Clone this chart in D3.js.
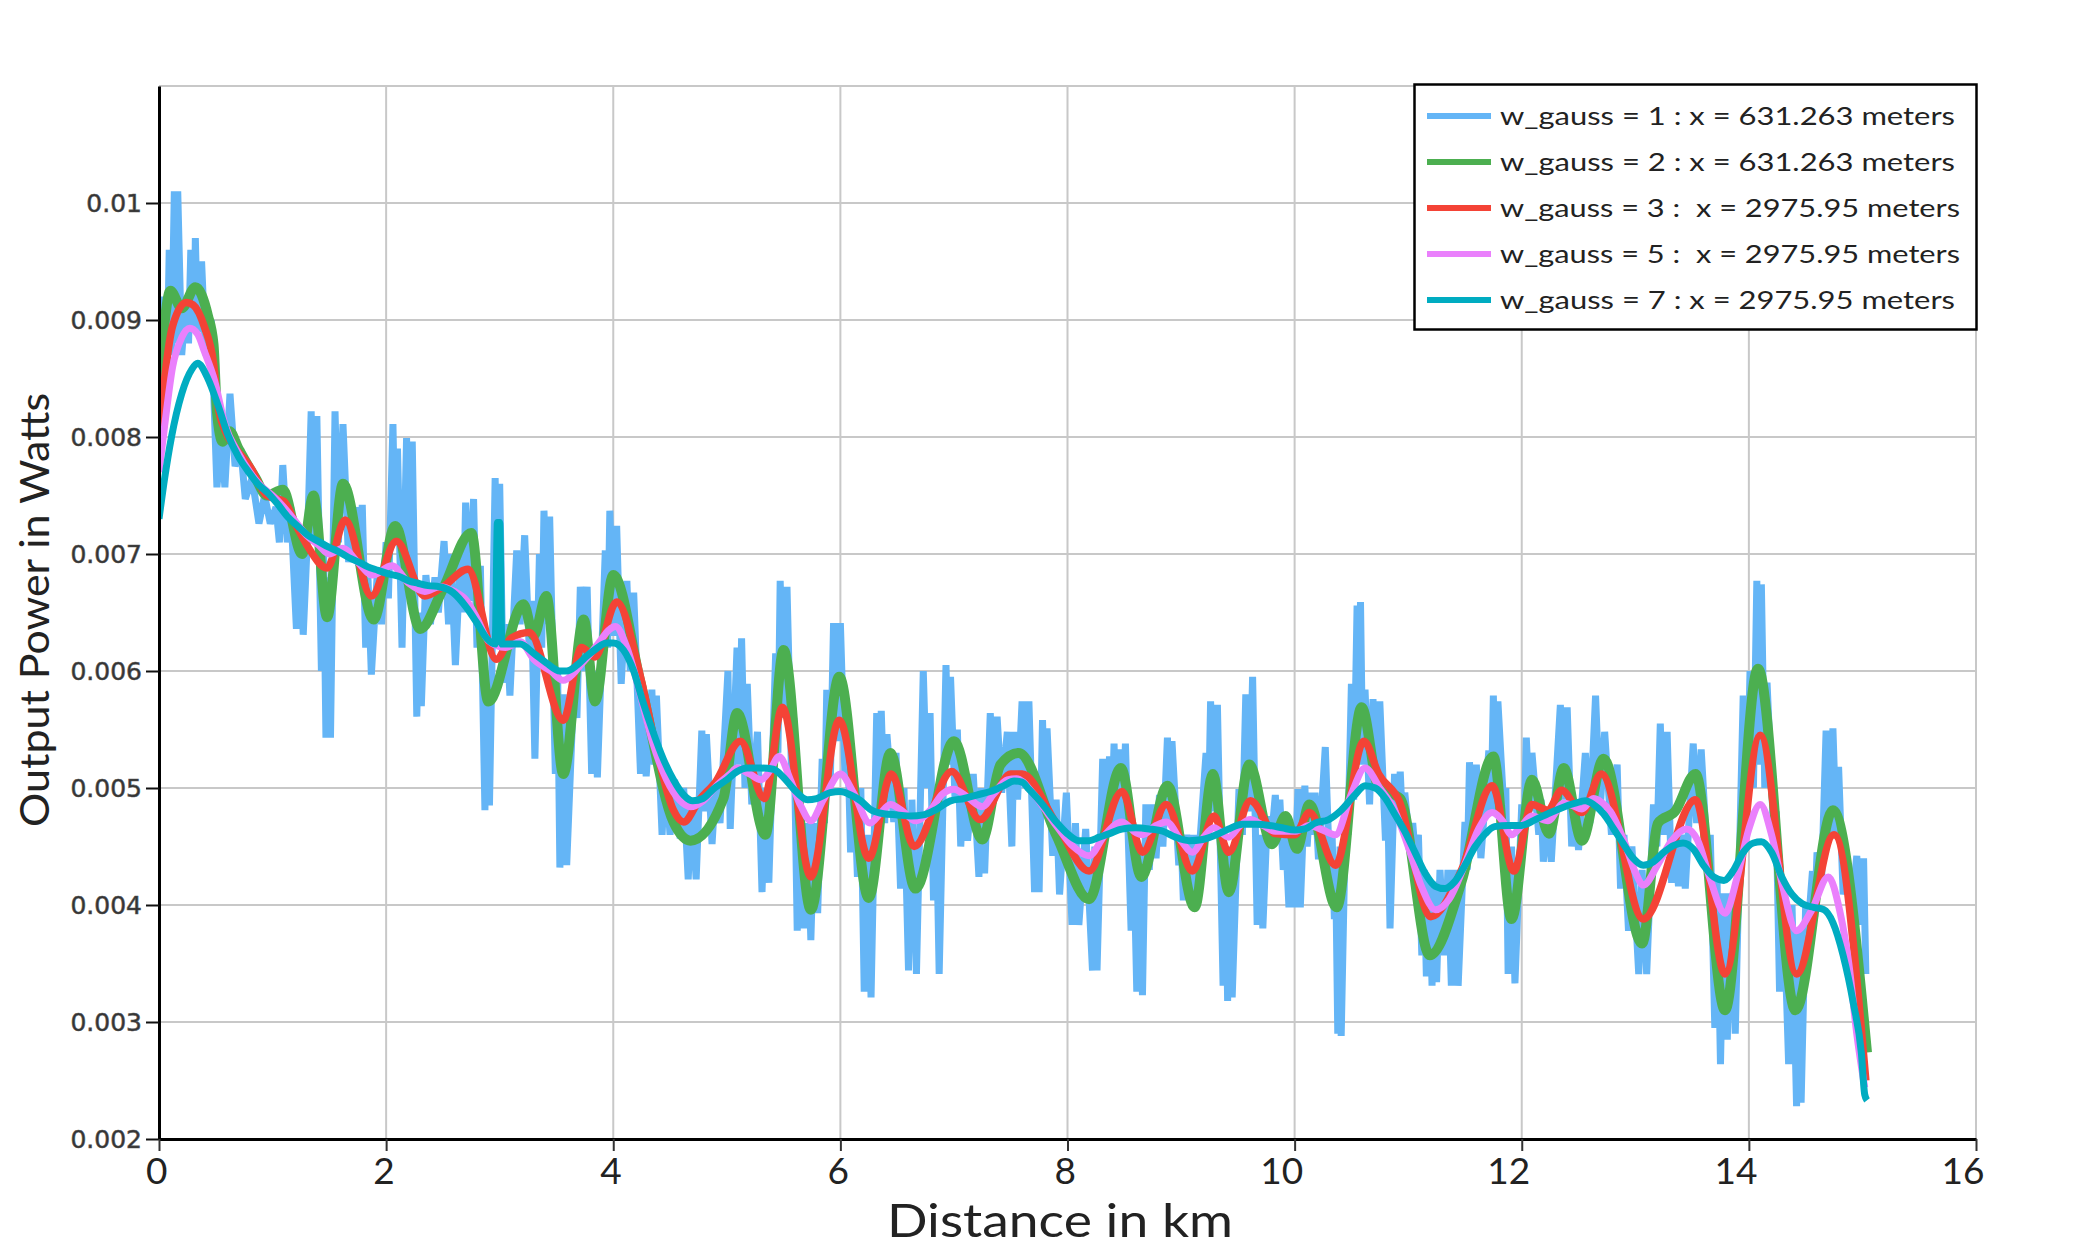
<!DOCTYPE html>
<html>
<head>
<meta charset="utf-8">
<script src="https://cdn.jsdelivr.net/npm/d3@7"></script>
<style>
  html, body { margin: 0; padding: 0; background: #fff; }
  .d3Chart text { white-space: pre; }
</style>
</head>
<body>
<div class="d3Chart"></div>
<script>
// axis ticks
const xTicks = [0, 2, 4, 6, 8, 10, 12, 14, 16]
const yTicks = [0.002, 0.003, 0.004, 0.005, 0.006, 0.007, 0.008, 0.009, 0.01]
const yTickLabels = ['0.002', '0.003', '0.004', '0.005', '0.006', '0.007', '0.008', '0.009', '0.01']
const yGrid = [0.003, 0.004, 0.005, 0.006, 0.007, 0.008, 0.009, 0.01, 0.011]

const legendLabels = [
  'w_gauss = 1 : x = 631.263 meters',
  'w_gauss = 2 : x = 631.263 meters',
  'w_gauss = 3 :  x = 2975.95 meters',
  'w_gauss = 5 :  x = 2975.95 meters',
  'w_gauss = 7 : x = 2975.95 meters'
]

// [distance km, power W]
const w1 = [[0,0.0082],[0.04,0.0092],[0.07,0.0085],[0.09,0.0096],[0.11,0.0087],[0.135,0.0101],[0.15,0.0088],[0.165,0.0101],[0.2,0.0087],[0.24,0.0092],[0.26,0.0088],[0.28,0.0096],[0.31,0.0089],[0.32,0.0097],[0.34,0.0089],[0.375,0.0095],[0.41,0.0087],[0.46,0.009],[0.51,0.00757],[0.55,0.008],[0.58,0.00757],[0.625,0.00837],[0.67,0.00775],[0.72,0.0079],[0.76,0.00747],[0.82,0.00765],[0.88,0.00726],[0.93,0.0075],[0.98,0.00726],[1.03,0.0074],[1.06,0.0071],[1.09,0.00776],[1.13,0.0071],[1.16,0.0074],[1.21,0.00636],[1.24,0.0071],[1.27,0.00631],[1.31,0.0072],[1.34,0.00822],[1.36,0.0071],[1.39,0.00818],[1.43,0.006],[1.45,0.007],[1.47,0.00543],[1.49,0.0068],[1.51,0.00543],[1.55,0.00822],[1.58,0.0071],[1.62,0.00811],[1.67,0.00693],[1.73,0.0074],[1.76,0.0069],[1.79,0.00742],[1.82,0.0062],[1.84,0.0068],[1.87,0.00597],[1.92,0.0068],[1.96,0.0064],[2.0,0.0071],[2.02,0.00662],[2.06,0.00811],[2.08,0.0071],[2.1,0.0079],[2.14,0.0062],[2.18,0.00799],[2.2,0.0069],[2.23,0.00796],[2.27,0.00561],[2.29,0.0065],[2.31,0.0057],[2.35,0.00682],[2.39,0.0064],[2.43,0.0068],[2.46,0.0065],[2.51,0.00711],[2.55,0.0064],[2.57,0.007],[2.61,0.00605],[2.66,0.0071],[2.68,0.0065],[2.7,0.00744],[2.73,0.0066],[2.77,0.00747],[2.8,0.0062],[2.83,0.0069],[2.87,0.00481],[2.89,0.006],[2.91,0.00485],[2.96,0.00765],[2.98,0.0064],[3.0,0.0076],[3.03,0.0059],[3.06,0.0064],[3.09,0.00579],[3.15,0.00703],[3.18,0.0064],[3.22,0.00716],[3.26,0.0062],[3.28,0.0066],[3.31,0.00525],[3.35,0.007],[3.37,0.0062],[3.39,0.00737],[3.42,0.0064],[3.44,0.00732],[3.49,0.00512],[3.51,0.006],[3.53,0.00432],[3.56,0.0058],[3.59,0.00434],[3.65,0.0058],[3.68,0.0056],[3.71,0.00672],[3.74,0.006],[3.77,0.00672],[3.81,0.00512],[3.83,0.006],[3.86,0.00509],[3.93,0.00703],[3.95,0.0062],[3.97,0.00737],[4.0,0.0063],[4.03,0.00724],[4.07,0.00589],[4.12,0.00677],[4.15,0.006],[4.18,0.00667],[4.24,0.00512],[4.26,0.0058],[4.29,0.0051],[4.34,0.00584],[4.36,0.0052],[4.38,0.00579],[4.43,0.0046],[4.46,0.0052],[4.5,0.0046],[4.54,0.00507],[4.59,0.00457],[4.62,0.005],[4.66,0.00422],[4.69,0.0049],[4.73,0.00422],[4.78,0.00549],[4.8,0.0048],[4.82,0.00546],[4.87,0.00452],[4.9,0.005],[4.94,0.0047],[5.01,0.006],[5.03,0.00465],[5.09,0.0062],[5.11,0.0052],[5.13,0.00628],[5.16,0.005],[5.18,0.00589],[5.22,0.00486],[5.27,0.00548],[5.31,0.00411],[5.34,0.005],[5.37,0.00419],[5.43,0.00615],[5.45,0.0053],[5.47,0.00677],[5.5,0.0056],[5.53,0.00672],[5.57,0.00512],[5.59,0.0056],[5.62,0.00378],[5.65,0.0048],[5.68,0.0038],[5.71,0.0047],[5.74,0.0037],[5.77,0.0047],[5.8,0.00393],[5.84,0.00525],[5.86,0.0047],[5.88,0.00584],[5.91,0.005],[5.94,0.00641],[5.97,0.0054],[6.0,0.00641],[6.04,0.00512],[6.06,0.0056],[6.09,0.00445],[6.12,0.0051],[6.15,0.00424],[6.18,0.005],[6.21,0.00326],[6.24,0.0046],[6.27,0.00321],[6.32,0.00564],[6.34,0.0048],[6.36,0.00566],[6.39,0.0047],[6.41,0.00546],[6.47,0.00471],[6.49,0.0053],[6.53,0.00414],[6.56,0.005],[6.6,0.00344],[6.63,0.0049],[6.67,0.00341],[6.73,0.006],[6.76,0.005],[6.79,0.00564],[6.82,0.00404],[6.84,0.005],[6.87,0.00341],[6.93,0.00605],[6.95,0.0052],[6.97,0.00595],[7.01,0.0049],[7.03,0.0055],[7.06,0.0045],[7.09,0.0052],[7.12,0.00455],[7.17,0.00512],[7.22,0.00424],[7.24,0.005],[7.27,0.00427],[7.32,0.00564],[7.35,0.005],[7.38,0.00561],[7.42,0.00496],[7.47,0.00548],[7.51,0.0045],[7.53,0.00548],[7.56,0.0049],[7.6,0.00574],[7.63,0.005],[7.66,0.00574],[7.71,0.00411],[7.73,0.0049],[7.75,0.00411],[7.78,0.00558],[7.8,0.0049],[7.82,0.00551],[7.87,0.00442],[7.9,0.0049],[7.93,0.00409],[7.99,0.00496],[8.04,0.00383],[8.07,0.0047],[8.1,0.00383],[8.16,0.00465],[8.22,0.00344],[8.24,0.0045],[8.26,0.00344],[8.31,0.00525],[8.34,0.0046],[8.37,0.00527],[8.39,0.0047],[8.41,0.00538],[8.43,0.0047],[8.46,0.00533],[8.49,0.0047],[8.51,0.00538],[8.56,0.00378],[8.58,0.0046],[8.61,0.00326],[8.63,0.0045],[8.66,0.00323],[8.69,0.00486],[8.72,0.0043],[8.75,0.00486],[8.78,0.0044],[8.81,0.00494],[8.84,0.0045],[8.88,0.00543],[8.9,0.0047],[8.92,0.0054],[8.98,0.00434],[9.0,0.0046],[9.02,0.00404],[9.05,0.0046],[9.09,0.00406],[9.11,0.0046],[9.13,0.00404],[9.22,0.0053],[9.24,0.0047],[9.26,0.00574],[9.29,0.0048],[9.32,0.00571],[9.37,0.00331],[9.39,0.0045],[9.41,0.00318],[9.43,0.0045],[9.45,0.00321],[9.51,0.00499],[9.54,0.0046],[9.57,0.0058],[9.6,0.0048],[9.63,0.00595],[9.67,0.00383],[9.69,0.0046],[9.72,0.0038],[9.76,0.00476],[9.79,0.0045],[9.83,0.00494],[9.85,0.0046],[9.87,0.0049],[9.9,0.0043],[9.92,0.0046],[9.95,0.00398],[9.97,0.0046],[9.99,0.00398],[10.03,0.00499],[10.05,0.00398],[10.09,0.00502],[10.11,0.0045],[10.14,0.00496],[10.16,0.0046],[10.18,0.00496],[10.21,0.00439],[10.27,0.00535],[10.31,0.00424],[10.33,0.0046],[10.35,0.00388],[10.36,0.0044],[10.38,0.0029],[10.4,0.0045],[10.41,0.00288],[10.45,0.00481],[10.47,0.0046],[10.5,0.00589],[10.52,0.0049],[10.55,0.00656],[10.56,0.0052],[10.58,0.00659],[10.6,0.0052],[10.62,0.00584],[10.66,0.00486],[10.69,0.00576],[10.72,0.005],[10.75,0.00574],[10.8,0.00455],[10.82,0.0049],[10.84,0.0038],[10.88,0.00512],[10.9,0.0047],[10.93,0.00514],[10.95,0.0047],[10.97,0.00496],[11.02,0.00445],[11.04,0.0047],[11.06,0.00445],[11.09,0.0046],[11.12,0.00357],[11.14,0.0043],[11.16,0.00339],[11.19,0.0042],[11.21,0.00331],[11.23,0.0042],[11.25,0.00334],[11.28,0.0043],[11.32,0.00357],[11.35,0.0043],[11.38,0.00331],[11.41,0.0043],[11.44,0.00331],[11.5,0.00471],[11.52,0.0043],[11.54,0.00522],[11.57,0.0046],[11.6,0.0052],[11.64,0.0044],[11.71,0.00532],[11.73,0.0048],[11.75,0.00579],[11.77,0.0048],[11.79,0.00574],[11.84,0.00486],[11.86,0.005],[11.88,0.00341],[11.91,0.0045],[11.94,0.00333],[12.0,0.00486],[12.02,0.0046],[12.04,0.00543],[12.07,0.0048],[12.09,0.0053],[12.15,0.0046],[12.17,0.0049],[12.19,0.00437],[12.22,0.0048],[12.26,0.00437],[12.34,0.00571],[12.37,0.0049],[12.4,0.00569],[12.44,0.0045],[12.47,0.0049],[12.5,0.00447],[12.56,0.0053],[12.6,0.0047],[12.65,0.00579],[12.69,0.0048],[12.73,0.00548],[12.79,0.0046],[12.84,0.0052],[12.87,0.00414],[12.9,0.0046],[12.94,0.00378],[12.97,0.0045],[13.03,0.00341],[13.06,0.0043],[13.1,0.00341],[13.16,0.00486],[13.19,0.0045],[13.22,0.00555],[13.25,0.0046],[13.28,0.00548],[13.32,0.00419],[13.35,0.0046],[13.38,0.00416],[13.41,0.0046],[13.44,0.00414],[13.51,0.00538],[13.54,0.0047],[13.58,0.00533],[13.64,0.0043],[13.66,0.0046],[13.7,0.00295],[13.72,0.0042],[13.75,0.00264],[13.78,0.0041],[13.81,0.00285],[13.84,0.0041],[13.88,0.0029],[13.95,0.00579],[13.98,0.0046],[14.01,0.006],[14.04,0.005],[14.07,0.00677],[14.09,0.0052],[14.11,0.00674],[14.14,0.005],[14.16,0.0059],[14.22,0.0046],[14.24,0.0048],[14.27,0.00326],[14.3,0.0042],[14.35,0.00264],[14.38,0.004],[14.42,0.00228],[14.44,0.0038],[14.46,0.00231],[14.5,0.004],[14.52,0.00378],[14.56,0.00429],[14.58,0.0039],[14.6,0.00445],[14.64,0.0042],[14.68,0.00549],[14.71,0.0046],[14.74,0.00551],[14.77,0.0046],[14.79,0.00518],[14.83,0.00409],[14.87,0.00434],[14.9,0.0039],[14.95,0.00442],[14.99,0.00383],[15.01,0.0044],[15.03,0.00341]]

const w2 = [[0,0.0085],[0.04,0.0089],[0.1,0.00925],[0.2,0.0091],[0.32,0.00928],[0.43,0.00904],[0.48,0.00879],[0.51,0.00822],[0.56,0.00796],[0.62,0.00805],[0.7,0.0079],[0.85,0.00765],[0.95,0.0075],[1.09,0.00755],[1.26,0.007],[1.36,0.0075],[1.48,0.00646],[1.62,0.0076],[1.89,0.00644],[2.08,0.00724],[2.3,0.00636],[2.5,0.0067],[2.75,0.00718],[2.9,0.00574],[3.21,0.00657],[3.3,0.0063],[3.41,0.00664],[3.56,0.00512],[3.74,0.00644],[3.84,0.00574],[4.0,0.00682],[4.24,0.0059],[4.53,0.00471],[4.68,0.00455],[4.97,0.00491],[5.09,0.00564],[5.34,0.0046],[5.5,0.00618],[5.74,0.00396],[5.99,0.00595],[6.25,0.00406],[6.44,0.0053],[6.66,0.00414],[7.0,0.0054],[7.25,0.00456],[7.41,0.0052],[7.57,0.0053],[7.9,0.0046],[8.19,0.00405],[8.47,0.00517],[8.65,0.00424],[8.88,0.00502],[9.12,0.00398],[9.28,0.00512],[9.42,0.00411],[9.6,0.0052],[9.8,0.00452],[9.92,0.00476],[10.02,0.00448],[10.13,0.00486],[10.37,0.00398],[10.59,0.00569],[10.74,0.005],[10.93,0.00491],[11.19,0.00357],[11.47,0.0042],[11.75,0.00527],[11.91,0.00388],[12.09,0.00507],[12.24,0.00461],[12.37,0.00517],[12.53,0.00455],[12.72,0.00525],[13.06,0.00367],[13.2,0.0047],[13.35,0.0048],[13.53,0.00512],[13.79,0.0031],[14.08,0.00602],[14.41,0.0031],[14.74,0.00481],[15.04,0.00274]]

const w3 = [[0,0.008],[0.05,0.0085],[0.12,0.00895],[0.24,0.00915],[0.3,0.00913],[0.4,0.00894],[0.48,0.00863],[0.52,0.00827],[0.58,0.00806],[0.67,0.00791],[0.8,0.00775],[0.95,0.0075],[1.1,0.00745],[1.22,0.00722],[1.3,0.00708],[1.48,0.00688],[1.64,0.00729],[1.87,0.00664],[2.09,0.00711],[2.34,0.00664],[2.5,0.00672],[2.72,0.00687],[2.97,0.0061],[3.1,0.00628],[3.26,0.00633],[3.56,0.00558],[3.72,0.0062],[3.84,0.00612],[4.03,0.00659],[4.24,0.00595],[4.38,0.00533],[4.53,0.00481],[4.62,0.00471],[4.76,0.0049],[4.9,0.00505],[5.12,0.0054],[5.33,0.00491],[5.49,0.00569],[5.74,0.00424],[5.99,0.00558],[6.25,0.0044],[6.45,0.00512],[6.65,0.0045],[6.98,0.00514],[7.23,0.00473],[7.5,0.00512],[7.6,0.00512],[7.9,0.0047],[8.19,0.00429],[8.48,0.00497],[8.66,0.00445],[8.87,0.00486],[9.1,0.00429],[9.29,0.00476],[9.42,0.00445],[9.61,0.00489],[9.83,0.00461],[10.0,0.0046],[10.13,0.00479],[10.36,0.00434],[10.61,0.0054],[10.74,0.00512],[10.92,0.00489],[11.2,0.0039],[11.47,0.0043],[11.74,0.00502],[11.93,0.00429],[12.09,0.00486],[12.23,0.00481],[12.35,0.00498],[12.53,0.00479],[12.7,0.00512],[13.07,0.00388],[13.53,0.0049],[13.79,0.00341],[14.1,0.00545],[14.42,0.00341],[14.75,0.0046],[15.03,0.0025]]

const w5 = [[0,0.0077],[0.05,0.0081],[0.12,0.0086],[0.2,0.00885],[0.27,0.00893],[0.34,0.00888],[0.4,0.00873],[0.49,0.00848],[0.58,0.00811],[0.7,0.00786],[0.8,0.0077],[0.9,0.00758],[1.0,0.0075],[1.1,0.0074],[1.2,0.00728],[1.3,0.00716],[1.4,0.00708],[1.5,0.007],[1.62,0.00705],[1.75,0.00693],[1.88,0.00682],[2.05,0.0069],[2.2,0.00675],[2.34,0.00668],[2.47,0.00672],[2.6,0.00668],[2.71,0.0066],[2.8,0.00645],[2.9,0.00626],[3.05,0.0062],[3.18,0.00625],[3.3,0.0061],[3.45,0.006],[3.56,0.00592],[3.65,0.00598],[3.71,0.00605],[3.8,0.00615],[3.88,0.00625],[3.96,0.00635],[4.02,0.00638],[4.12,0.0062],[4.24,0.00579],[4.35,0.00538],[4.47,0.00507],[4.59,0.00489],[4.68,0.00484],[4.79,0.00489],[4.91,0.00502],[5.03,0.00512],[5.09,0.00517],[5.2,0.00512],[5.3,0.00507],[5.38,0.00515],[5.46,0.00527],[5.56,0.00507],[5.65,0.00485],[5.74,0.00472],[5.85,0.0049],[6.0,0.00512],[6.12,0.00495],[6.26,0.0047],[6.35,0.00478],[6.44,0.00486],[6.55,0.0048],[6.66,0.00472],[6.8,0.00482],[6.9,0.00495],[7.0,0.00499],[7.12,0.00492],[7.25,0.00484],[7.35,0.00495],[7.47,0.00507],[7.55,0.00508],[7.7,0.00495],[7.9,0.00468],[8.05,0.0045],[8.19,0.00442],[8.33,0.0046],[8.48,0.00471],[8.6,0.00462],[8.66,0.0046],[8.78,0.00468],[8.87,0.00471],[9.0,0.00455],[9.1,0.00445],[9.2,0.00458],[9.29,0.00466],[9.42,0.00458],[9.52,0.00468],[9.61,0.00473],[9.72,0.00468],[9.83,0.00463],[10.01,0.00463],[10.13,0.00468],[10.25,0.00464],[10.36,0.0046],[10.5,0.00495],[10.62,0.00517],[10.75,0.005],[10.88,0.00481],[11.0,0.0045],[11.12,0.00415],[11.24,0.00396],[11.36,0.00405],[11.5,0.00435],[11.62,0.00465],[11.74,0.00479],[11.83,0.00472],[11.91,0.0046],[12.0,0.00468],[12.09,0.00476],[12.23,0.00472],[12.37,0.00487],[12.45,0.00485],[12.53,0.00482],[12.63,0.00491],[12.7,0.00488],[12.78,0.0048],[12.9,0.00455],[13.0,0.00428],[13.07,0.00417],[13.2,0.00435],[13.32,0.00455],[13.45,0.00465],[13.55,0.00455],[13.65,0.00425],[13.79,0.00393],[13.9,0.00425],[14.0,0.00465],[14.1,0.00486],[14.2,0.0046],[14.3,0.00415],[14.42,0.00378],[14.55,0.00395],[14.7,0.00424],[14.8,0.00395],[14.88,0.0035],[14.95,0.0029],[15.02,0.00244]]

const w7 = [[0,0.0073],[0.05,0.00765],[0.11,0.008],[0.2,0.00837],[0.29,0.00858],[0.34,0.00863],[0.43,0.0085],[0.52,0.00827],[0.61,0.00801],[0.7,0.00783],[0.79,0.0077],[0.87,0.0076],[0.96,0.00752],[1.05,0.00742],[1.14,0.00731],[1.23,0.00723],[1.31,0.00716],[1.4,0.00711],[1.49,0.00706],[1.58,0.00702],[1.67,0.00697],[1.76,0.00693],[1.84,0.00689],[1.93,0.00686],[2.02,0.00683],[2.11,0.00681],[2.2,0.00677],[2.28,0.00675],[2.37,0.00673],[2.47,0.00672],[2.59,0.00667],[2.71,0.00654],[2.8,0.00641],[2.885,0.00628],[2.96,0.00623],[2.98,0.00727],[3.0,0.00727],[3.02,0.00623],[3.06,0.00623],[3.18,0.00623],[3.3,0.00615],[3.41,0.00607],[3.53,0.006],[3.59,0.006],[3.68,0.00605],[3.77,0.00613],[3.85,0.00619],[3.94,0.00624],[4.0,0.00624],[4.09,0.00618],[4.18,0.006],[4.26,0.00574],[4.35,0.00548],[4.44,0.00525],[4.53,0.00507],[4.62,0.00494],[4.7,0.00489],[4.79,0.00491],[4.88,0.00499],[5.0,0.00507],[5.09,0.00514],[5.18,0.00517],[5.3,0.00517],[5.41,0.00516],[5.5,0.00509],[5.59,0.00499],[5.71,0.0049],[5.79,0.00491],[5.91,0.00496],[6.0,0.00497],[6.09,0.00494],[6.18,0.00489],[6.26,0.00482],[6.38,0.00478],[6.5,0.00477],[6.62,0.00476],[6.73,0.00477],[6.85,0.00482],[6.97,0.00489],[7.09,0.00491],[7.2,0.00494],[7.32,0.00497],[7.44,0.00502],[7.53,0.00506],[7.6,0.00505],[7.66,0.00499],[7.78,0.00486],[7.9,0.00471],[8.01,0.0046],[8.1,0.00455],[8.19,0.00455],[8.28,0.00458],[8.37,0.00461],[8.48,0.00465],[8.6,0.00466],[8.72,0.00465],[8.84,0.00463],[8.95,0.00458],[9.07,0.00455],[9.19,0.00456],[9.31,0.0046],[9.42,0.00465],[9.54,0.00469],[9.66,0.00469],[9.78,0.00468],[9.89,0.00466],[10.0,0.00464],[10.09,0.00465],[10.18,0.0047],[10.3,0.00473],[10.41,0.00481],[10.53,0.00494],[10.62,0.00502],[10.71,0.005],[10.8,0.00491],[10.88,0.00478],[10.97,0.00463],[11.06,0.00445],[11.15,0.00427],[11.24,0.00416],[11.32,0.00414],[11.41,0.0042],[11.5,0.00434],[11.59,0.0045],[11.68,0.00461],[11.76,0.00467],[11.88,0.00468],[12.0,0.00468],[12.12,0.00473],[12.23,0.00478],[12.35,0.00483],[12.47,0.00487],[12.56,0.00489],[12.63,0.00486],[12.72,0.00478],[12.81,0.00465],[12.89,0.00453],[12.98,0.0044],[13.07,0.00434],[13.16,0.00437],[13.25,0.00445],[13.34,0.00451],[13.42,0.00453],[13.51,0.00448],[13.6,0.00434],[13.69,0.00424],[13.78,0.00421],[13.86,0.00429],[13.95,0.00445],[14.04,0.00453],[14.11,0.00454],[14.2,0.00445],[14.29,0.00424],[14.38,0.00409],[14.47,0.00401],[14.57,0.00398],[14.66,0.00396],[14.74,0.00385],[14.83,0.00357],[14.92,0.00316],[14.99,0.00274],[15.02,0.00238],[15.04,0.00233]]

const option = {
  width: 2074,
  height: 1254,
  plotLeft: 159,
  plotRight: 1976,
  plotTop: 86,
  plotBottom: 1139,
  gridColor: '#c8c8c8',
  labelColor: '#222'
}

const series = [
  { data: w1, color: '#64b5f6', width: 7, curve: d3.curveLinear },
  { data: w2, color: '#4caf50', width: 10, curve: d3.curveMonotoneX },
  { data: w3, color: '#f44336', width: 7.5, curve: d3.curveMonotoneX },
  { data: w5, color: '#ea80fc', width: 7, curve: d3.curveMonotoneX },
  { data: w7, color: '#00acc1', width: 7, curve: d3.curveMonotoneX }
]

const { width, height, plotLeft, plotRight, plotTop, plotBottom, gridColor, labelColor } = option

const x = d3.scaleLinear().domain([0, 16]).range([plotLeft, plotRight])
const y = d3.scaleLinear().domain([0.002, 0.011]).range([plotBottom, plotTop])

const svg = d3.select('.d3Chart')
  .append('svg')
  .attr('width', width)
  .attr('height', height)
  .style('display', 'block')

svg.append('defs').append('clipPath')
  .attr('id', 'plot-clip')
  .append('rect')
  .attr('x', plotLeft)
  .attr('y', plotTop)
  .attr('width', plotRight - plotLeft)
  .attr('height', plotBottom - plotTop)

// grid
const grid = svg.append('g').attr('stroke', gridColor).attr('stroke-width', 2)
grid.selectAll('.vgrid')
  .data(xTicks.filter(d => d > 0))
  .enter()
  .append('line')
  .attr('x1', d => x(d))
  .attr('x2', d => x(d))
  .attr('y1', plotTop)
  .attr('y2', plotBottom)
grid.selectAll('.hgrid')
  .data(yGrid)
  .enter()
  .append('line')
  .attr('x1', plotLeft)
  .attr('x2', plotRight)
  .attr('y1', d => y(d))
  .attr('y2', d => y(d))

// lines
const lines = svg.append('g').attr('clip-path', 'url(#plot-clip)')
series.forEach(s => {
  const line = d3.line()
    .curve(s.curve)
    .x(d => x(d[0]))
    .y(d => y(d[1]))
  lines.append('path')
    .datum(s.data)
    .attr('d', line)
    .attr('fill', 'none')
    .attr('stroke', s.color)
    .attr('stroke-width', s.width)
    .attr('stroke-linejoin', 'bevel')
})

// axes
const yAxis = svg.append('g')
  .attr('transform', `translate(${plotLeft},0)`)
  .call(d3.axisLeft(y)
    .tickValues(yTicks)
    .tickFormat((d, i) => yTickLabels[i])
    .tickSize(13)
    .tickPadding(4)
    .tickSizeOuter(0))
yAxis.select('.domain').attr('stroke', '#000').attr('stroke-width', 3)
yAxis.selectAll('.tick line').attr('stroke', '#111').attr('stroke-width', 2)
yAxis.selectAll('.tick text')
  .attr('font-family', 'DejaVu Sans')
  .attr('font-size', 25)
  .attr('fill', '#333')
  .attr('stroke', '#555')
  .attr('stroke-width', 0.6)

const xAxis = svg.append('g')
  .attr('transform', `translate(0,${plotBottom})`)
  .call(d3.axisBottom(x)
    .tickValues(xTicks)
    .tickSize(12)
    .tickPadding(7)
    .tickSizeOuter(0))
xAxis.select('.domain').attr('stroke', '#000').attr('stroke-width', 3)
xAxis.selectAll('.tick line').attr('stroke', '#333').attr('stroke-width', 2)
xAxis.selectAll('.tick text')
  .attr('font-family', 'Lato')
  .attr('font-size', 37)
  .attr('fill', labelColor)
  .attr('text-anchor', 'end')
  .attr('x', 8)

// axis titles
svg.append('text')
  .attr('x', 1060)
  .attr('y', 1237)
  .attr('text-anchor', 'middle')
  .attr('font-family', 'Lato')
  .attr('font-size', 47)
  .attr('fill', labelColor)
  .attr('textLength', 346)
  .attr('lengthAdjust', 'spacingAndGlyphs')
  .text('Distance in km')

svg.append('text')
  .attr('transform', 'translate(49,610) rotate(-90)')
  .attr('text-anchor', 'middle')
  .attr('font-family', 'Lato')
  .attr('font-size', 40)
  .attr('fill', labelColor)
  .attr('textLength', 434)
  .attr('lengthAdjust', 'spacingAndGlyphs')
  .text('Output Power in Watts')

// legend
const legendWidths = [455, 455, 460, 460, 455]
const legend = svg.append('g')
legend.append('rect')
  .attr('x', 1414.5)
  .attr('y', 84.5)
  .attr('width', 562)
  .attr('height', 245)
  .attr('fill', '#fff')
  .attr('stroke', '#000')
  .attr('stroke-width', 2.5)

const items = legend.selectAll('.legend-item')
  .data(series)
  .enter()
  .append('g')
  .attr('transform', (d, i) => `translate(0, ${116 + i * 46})`)

items.append('line')
  .attr('x1', 1427)
  .attr('x2', 1491)
  .attr('stroke', d => d.color)
  .attr('stroke-width', 6)

items.append('text')
  .attr('x', 1500)
  .attr('y', 9)
  .attr('font-family', 'Lato')
  .attr('font-size', 25)
  .attr('fill', labelColor)
  .attr('textLength', (d, i) => legendWidths[i])
  .attr('lengthAdjust', 'spacingAndGlyphs')
  .text((d, i) => legendLabels[i])
</script>
</body>
</html>
